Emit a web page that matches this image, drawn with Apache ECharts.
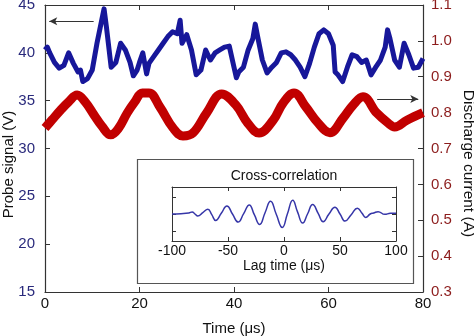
<!DOCTYPE html>
<html><head><meta charset="utf-8">
<script src="https://cdn.jsdelivr.net/npm/echarts@6/dist/echarts.min.js"></script>
<style>html,body{margin:0;padding:0;background:#fff}#c{width:474px;height:336px}</style>
</head><body><div id="c"></div>
<script>
const probeTime = [0,0.5,1,2,3,4,5,6,7,7.5,8,9,10,11,12,12.5,13,14,15,16,17,18,18.7,19.5,20,20.7,21.5,22,23,24,25,26,27,28,28.6,29,30,31,32,33,34,35,36,37,38,39,40,40.5,41,42,43,44,44.5,45,46,47,48,49,50,51,52,53,54,55,56,57,58,59,60,61,61.4,62,63,64,65,66,67,68,69,70,71,72,72.5,73,74,75,76,77,78,79,80];
const probeSignal = [40.3,40.6,40.0,39.0,38.4,38.7,40.0,38.9,38.0,38.2,37.0,37.3,38.2,41.0,43.4,44.6,42.7,38.5,39.0,41.0,40.3,39.0,37.6,38.2,39.0,40.0,37.8,38.9,39.6,40.3,41.0,41.7,42.2,42.0,43.4,41.0,41.9,40.3,37.7,38.2,40.3,39.25,40.0,40.3,40.6,40.7,38.5,37.4,38.0,38.5,40.3,41.5,43.0,41.7,39.25,37.9,38.5,39.0,40.0,40.1,39.8,39.25,38.5,37.5,38.9,40.6,42.0,42.4,42.0,40.8,38.0,37.7,37.0,38.5,39.8,39.6,39.0,39.25,37.7,38.5,39.25,40.6,42.4,41.5,39.25,38.5,41.0,39.8,38.4,38.5,39.4];
const currentTime = [0,1.5,3.3,5,6.8,8.5,10.4,12,13.9,15.5,17.4,19,20.6,22,24.3,27.1,29.2,31.3,34.2,37.4,40.4,42.9,45.3,48.3,50.4,52.7,55.2,57.8,60.3,63.1,65.2,67.3,70.2,72.6,74,76.6,80];
const currentValues = [0.757,0.78,0.807,0.83,0.849,0.83,0.793,0.763,0.738,0.755,0.799,0.83,0.855,0.855,0.816,0.757,0.735,0.743,0.799,0.852,0.821,0.771,0.743,0.779,0.827,0.855,0.816,0.771,0.744,0.785,0.821,0.844,0.799,0.771,0.760,0.779,0.80];
const lagTime = [-100,-92,-85,-82,-79.5,-77,-72.5,-68,-64.5,-61,-56,-51,-46,-41,-36,-31,-26.5,-21.7,-17,-12,-7,-1.5,3,7.8,12,16.7,21,25.6,30.5,35,40,45.5,50,54.5,60,65.5,69.5,73,77,80,84,90,95,100];
const crossCorr = [0,0.01,0.03,0.06,0,-0.06,0.04,0.14,-0.02,-0.19,0.02,0.24,0,-0.24,0.01,0.27,-0.02,-0.31,0.03,0.38,0,-0.40,0,0.41,0.07,-0.27,0,0.28,0.02,-0.23,-0.01,0.20,0,-0.21,-0.02,0.17,0.03,-0.10,0,0.03,0.07,-0.01,0.02,0.02];

const zip = (a, b) => a.map((v, i) => [v, b[i]]);
const FONT = 'Liberation Sans';
const mainLine = { onZero: false, lineStyle: { color: '#333', width: 1.2 } };
const insetLine = { onZero: false, lineStyle: { color: '#333', width: 1 } };
const mainTick = { inside: true, length: 5, lineStyle: { color: '#333' } };

const chart = echarts.init(document.getElementById('c'), null, { renderer: 'canvas' });
chart.setOption({
  animation: false,
  textStyle: { fontFamily: FONT },
  grid: [
    { left: 45, top: 5, width: 378, height: 287, containLabel: false, outerBoundsMode: 'none' },
    { left: 172, top: 187, width: 224, height: 54, containLabel: false, outerBoundsMode: 'none' }
  ],
  graphic: [
    { type: 'rect', z: 1, shape: { x: 137.5, y: 159.5, width: 276, height: 124 },
      style: { fill: '#fff', stroke: '#555', lineWidth: 1.2 } },
    { type: 'text', z: 5, x: 284, y: 176,
      style: { text: 'Cross-correlation', font: '14px ' + FONT, fill: '#111', textAlign: 'center', textVerticalAlign: 'middle' } }
  ],
  xAxis: [
    { gridIndex: 0, type: 'value', min: 0, max: 80, interval: 20, position: 'bottom',
      name: 'Time (μs)', nameLocation: 'middle', nameGap: 29,
      nameTextStyle: { fontSize: 15, color: '#111', fontFamily: FONT },
      axisLine: mainLine, axisTick: mainTick,
      axisLabel: { fontSize: 15, color: '#111', margin: 4, fontFamily: FONT },
      splitLine: { show: false } },
    { gridIndex: 0, type: 'value', min: 0, max: 80, interval: 20, position: 'top',
      axisLine: mainLine, axisTick: mainTick,
      axisLabel: { show: false }, splitLine: { show: false } },
    { gridIndex: 1, type: 'value', min: -100, max: 100, interval: 50, position: 'bottom', z: 3,
      name: 'Lag time (μs)', nameLocation: 'middle', nameGap: 18,
      nameTextStyle: { fontSize: 14, color: '#111', fontFamily: FONT },
      axisLine: insetLine,
      axisTick: { inside: true, length: 4, lineStyle: { color: '#333' } },
      axisLabel: { fontSize: 14, color: '#111', margin: 3, fontFamily: FONT },
      splitLine: { show: false } },
    { gridIndex: 1, type: 'value', min: -100, max: 100, interval: 50, position: 'top', z: 3,
      axisLine: insetLine,
      axisTick: { inside: true, length: 4, lineStyle: { color: '#333' } },
      axisLabel: { show: false }, splitLine: { show: false } }
  ],
  yAxis: [
    { gridIndex: 0, type: 'value', min: 15, max: 45, interval: 5, position: 'left',
      name: 'Probe signal (V)', nameLocation: 'middle', nameGap: 29, nameMoveOverlap: false,
      nameTextStyle: { fontSize: 15, color: '#111', fontFamily: FONT, padding: [0, 32, 0, 0] },
      axisLine: mainLine, axisTick: mainTick,
      axisLabel: { fontSize: 15, color: '#2a2a7c', margin: 10, fontFamily: FONT },
      splitLine: { show: false } },
    { gridIndex: 0, type: 'value', min: 0.3, max: 1.1, interval: 0.1, position: 'right',
      name: 'Discharge current (A)', nameLocation: 'middle', nameGap: 37, nameRotate: -90, nameMoveOverlap: false,
      nameTextStyle: { fontSize: 15.5, color: '#111', fontFamily: FONT, padding: [0, 0, 0, 30] },
      axisLine: mainLine, axisTick: mainTick,
      axisLabel: { fontSize: 15, color: '#8c1c1c', margin: 8, fontFamily: FONT,
        formatter: v => v.toFixed(1) },
      splitLine: { show: false } },
    { gridIndex: 1, type: 'value', min: -0.8, max: 0.8, position: 'left', z: 3,
      axisLine: insetLine,
      axisTick: { inside: true, length: 4, customValues: [-0.5, 0, 0.5], lineStyle: { color: '#333' } },
      axisLabel: { show: false }, splitLine: { show: false } },
    { gridIndex: 1, type: 'value', min: -0.8, max: 0.8, position: 'right', z: 3,
      axisLine: insetLine,
      axisTick: { inside: true, length: 4, customValues: [-0.5, 0, 0.5], lineStyle: { color: '#333' } },
      axisLabel: { show: false }, splitLine: { show: false } }
  ],
  series: [
    { type: 'line', xAxisIndex: 0, yAxisIndex: 0, data: zip(probeTime, probeSignal),
      showSymbol: false, smooth: false, lineStyle: { color: '#17179a', width: 5, join: 'round' }, z: 2,
      markLine: { silent: true, symbolSize: [6, 8], label: { show: false },
        lineStyle: { color: '#333', width: 1, type: 'solid' },
        data: [[{ coord: [0.9, 43.3], symbol: 'arrow' }, { coord: [10.3, 43.3], symbol: 'none' }]] } },
    { type: 'line', xAxisIndex: 0, yAxisIndex: 1, data: zip(currentTime, currentValues),
      showSymbol: false, smooth: 0.4, lineStyle: { color: '#c10000', width: 9, join: 'round' }, z: 2,
      markLine: { silent: true, symbolSize: [6, 8], label: { show: false },
        lineStyle: { color: '#333', width: 1, type: 'solid' },
        data: [[{ coord: [70.3, 0.838], symbol: 'none' }, { coord: [79.0, 0.838], symbol: 'arrow' }]] } },
    { type: 'line', xAxisIndex: 2, yAxisIndex: 2, data: zip(lagTime, crossCorr),
      showSymbol: false, smooth: 0.5, lineStyle: { color: '#3636a8', width: 1.5 }, z: 4 }
  ]
});
</script></body></html>
